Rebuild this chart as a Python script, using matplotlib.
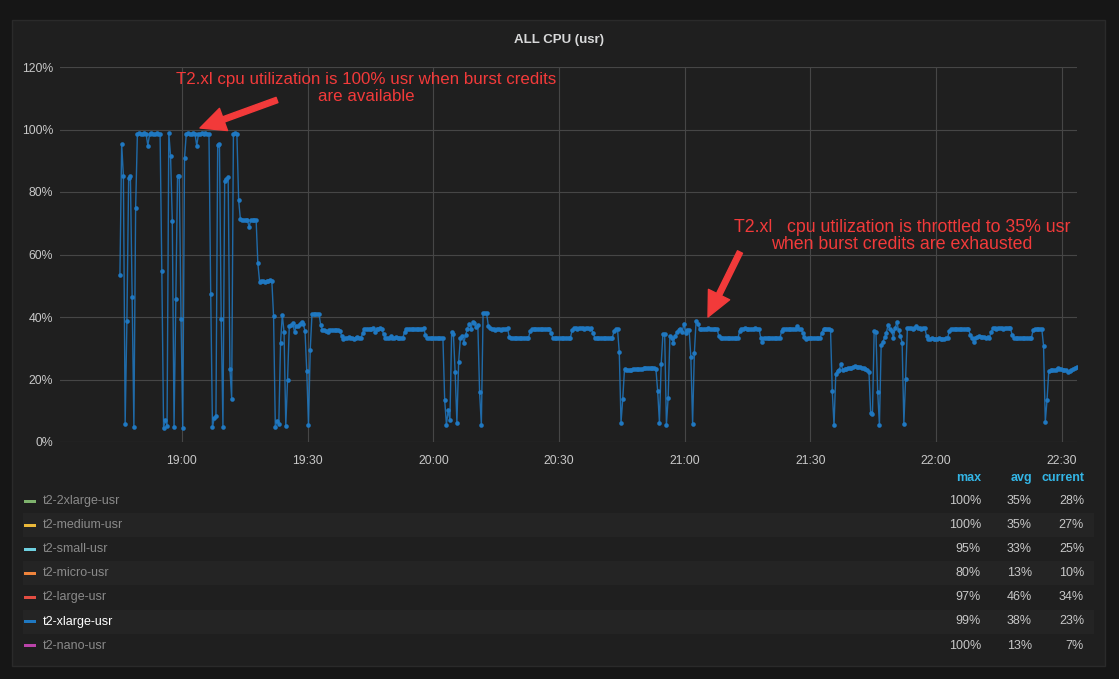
import matplotlib
matplotlib.use('Agg')
import matplotlib.pyplot as plt
import matplotlib.dates as mdates
from matplotlib.patches import Rectangle
import pandas as pd

plt.rcParams['font.family'] = ['Liberation Sans', 'DejaVu Sans']

# t2-xlarge-usr, one sample every 25 s starting 18:45:12
xlarge_usr = [
    53.4, 95.4, 85.0, 5.8, 38.7, 84.5, 85.0, 46.5, 4.8, 75.0, 98.6,
    98.8, 98.6, 98.6, 98.8, 98.6, 94.8, 98.6, 98.8, 98.6, 98.6, 98.8, 98.6, 98.6,
    54.7, 4.6, 7.0, 5.2, 98.8, 91.6, 70.7, 4.9, 45.7, 85.0, 85.0, 39.5, 4.6, 90.8,
    98.6, 98.8, 98.6, 98.6, 98.8, 98.6, 94.8, 98.6, 98.6, 98.8, 98.6, 98.8, 98.6, 98.6,
    47.3, 4.7, 7.6, 8.4, 95.0, 95.3, 39.4, 4.9, 83.5, 84.3, 84.9, 23.4, 13.9,
    98.6, 98.8, 98.6, 77.3, 71.3,
    71.2, 71.0, 71.2, 71.0, 68.8, 71.2, 71.0, 71.2, 71.2,
    57.2, 51.3, 51.6, 51.5, 51.3, 51.6, 51.4, 51.8, 51.6,
    40.3, 4.9, 6.8, 5.8, 31.8, 40.7, 35.2, 5.2, 19.7, 37.1, 37.4, 38.0, 35.2,
    37.1, 37.1, 37.8, 38.5, 37.7, 35.6,
    22.8, 5.4, 29.5, 40.9, 41.1, 40.9, 41.1, 41.0, 37.4,
    35.8, 35.9, 35.5, 35.2, 35.8, 35.9, 35.8, 35.9, 35.8, 35.8, 35.6,
    33.9,
    33.1, 33.3, 33.3, 33.6, 33.3, 33.3, 33.1, 33.3, 33.6, 33.3, 33.3,
    34.8,
    36.3, 36.2, 36.2, 36.3, 36.2, 36.6, 35.1, 36.3, 36.2, 36.4, 36.2,
    34.5,
    33.4, 33.4, 33.3, 33.8, 33.3, 33.3, 33.5, 33.3, 33.3, 33.4, 33.4,
    35.1,
    36.2, 36.2, 36.3, 36.2, 36.2, 36.2, 36.1, 36.3, 36.2, 36.2, 36.4,
    34.2,
    33.4, 33.3, 33.4, 33.2, 33.3, 33.4, 33.3, 33.2, 33.3, 33.2,
    13.5, 5.6, 10.1, 7.0, 35.1, 34.6, 22.3, 6.2, 25.5, 33.2, 33.9, 31.8, 34.3,
    36.2, 37.8, 36.1, 38.4, 38.0, 36.7, 37.4, 15.9, 5.5, 41.2, 41.2, 41.2,
    37.2, 36.4, 36.1, 36.1, 36.0, 36.1, 36.2, 36.0, 36.1, 36.1, 36.2, 36.4,
    33.5,
    33.4, 33.3, 33.4, 33.4, 33.2, 33.4, 33.3, 33.4, 33.3, 33.4, 33.4,
    35.5,
    36.2, 36.3, 36.2, 36.2, 36.3, 36.2, 36.2, 36.1, 36.2, 36.3, 36.1,
    35.0,
    33.2, 33.3, 33.2, 33.2, 33.3, 33.2, 33.2, 33.3, 33.2, 33.2, 33.3,
    35.8,
    36.4, 36.4, 36.3, 36.4, 36.4, 36.4, 36.3, 36.4, 36.4, 36.3, 36.4,
    35.0,
    33.2, 33.3, 33.2, 33.2, 33.3, 33.2, 33.2, 33.3, 33.2, 33.2, 33.3,
    35.5, 36.2, 36.1, 28.7, 6.2, 13.9, 23.3,
    23.0, 23.2, 23.1, 23.2, 23.3, 23.3, 23.4, 23.5, 23.4, 23.5, 23.6, 23.6,
    23.7, 23.8, 23.7, 23.6, 23.6, 23.3,
    16.2, 6.2, 24.9, 34.6, 34.6, 5.5, 14.2, 34.0, 33.4, 31.6, 34.0, 35.1,
    35.7, 36.2, 35.1, 37.9, 35.0, 36.0, 36.0, 27.1, 5.9, 28.4, 38.8, 37.9,
    36.3, 36.3, 36.2, 36.3, 36.3, 36.4, 36.3, 36.2, 36.3, 36.3, 36.3,
    33.8,
    33.3, 33.3, 33.2, 33.3, 33.3, 33.3, 33.2, 33.3, 33.3, 33.3,
    33.4, 35.6,
    36.3, 36.3, 36.4, 36.3, 36.3, 36.2, 36.3, 36.3, 36.4, 36.3, 36.3,
    33.4, 32.1,
    33.3, 33.3, 33.2, 33.3, 33.3, 33.3, 33.2, 33.3, 33.3, 33.3,
    35.5,
    36.2, 36.2, 36.3, 36.2, 36.2, 36.3, 36.2, 36.2, 37.0, 36.2, 36.2,
    35.0, 33.5, 32.9,
    33.3, 33.3, 33.2, 33.3, 33.3, 33.2, 33.3, 33.3,
    35.0, 36.1, 36.3, 36.3, 36.2, 35.7,
    16.3, 5.3, 21.8, 22.8, 23.1, 25.0, 23.1,
    23.3, 23.4, 23.6, 23.7, 23.8, 24.0, 24.4, 24.0, 24.1, 23.9, 23.8, 23.6, 23.5, 23.2,
    22.5, 9.2, 9.0, 35.5, 35.2, 16.1, 5.5, 31.0, 32.1, 33.5, 35.0, 37.6,
    36.1, 35.4, 33.4, 36.4, 38.4, 35.7, 34.0, 31.8, 5.9, 20.3, 36.5,
    36.4, 36.4, 36.3, 36.4, 37.0, 36.4, 36.4, 36.3, 36.4, 36.4,
    33.9,
    33.1, 33.1, 33.2, 33.1, 33.1, 33.1, 33.2, 33.1, 33.1, 33.1, 33.2,
    33.2, 35.5,
    36.2, 36.2, 36.3, 36.2, 36.2, 36.2, 36.3, 36.2, 36.2, 36.2, 36.2,
    34.3, 33.2, 32.0, 33.3, 33.6, 34.0, 33.5, 33.5, 33.5, 33.4, 33.5,
    33.4, 35.2,
    36.4, 36.4, 36.3, 36.4, 36.4, 36.4, 36.3, 36.4, 36.4, 36.4, 36.4,
    34.3,
    33.2, 33.2, 33.3, 33.2, 33.2, 33.2, 33.3, 33.2, 33.2, 33.2, 33.2,
    35.7, 36.2, 36.2, 36.3, 36.2, 36.2, 30.8, 6.5, 13.4, 22.8,
    23.0, 23.1, 23.0, 23.2, 23.8, 23.5, 23.3, 23.2, 23.2, 23.0, 22.3, 22.8,
    23.1, 23.3, 23.8, 24.0,
]

series_names = ['t2-2xlarge-usr', 't2-medium-usr', 't2-small-usr', 't2-micro-usr',
                't2-large-usr', 't2-xlarge-usr', 't2-nano-usr']
series_colors = ['#7eb26d', '#eab839', '#6ed0e0', '#ef843c', '#e24d42', '#1f78c1', '#ba43a9']
max_vals = ['100%', '100%', '95%', '80%', '97%', '99%', '100%']
avg_vals = ['35%', '35%', '33%', '13%', '46%', '38%', '13%']
cur_vals = ['28%', '27%', '25%', '10%', '34%', '23%', '7%']

note1 = 'T2.xl cpu utilization is 100% usr when burst credits\nare available'
note2 = 'T2.xl   cpu utilization is throttled to 35% usr\nwhen burst credits are exhausted'

W, H = 1119, 679
times = pd.date_range('2017-03-01 18:45:12', periods=len(xlarge_usr), freq='25s')
xticks = pd.date_range('2017-03-01 19:00', '2017-03-01 22:30', freq='30min')

fig = plt.figure(figsize=(W / 100, H / 100), dpi=100, facecolor='#161616')

# panel background (kept under the axes)
fig.patches.append(Rectangle((12 / W, 1 - 666 / H), 1093 / W, 646 / H, zorder=-10,
                             transform=fig.transFigure, fc='#1f1f1f', ec='#2a2a2a', lw=1))

fig.text(559 / W, 1 - 40 / H, 'ALL CPU (usr)', color='#d8d9da', fontsize=9.5,
         fontweight='bold', ha='center', va='center')

ax = fig.add_axes([60 / W, 1 - 442 / H, 1017 / W, 375 / H])
ax.set_facecolor('none')
ax.plot(times, xlarge_usr, color='#1f78c1', lw=1.0, alpha=0.85, zorder=3)
ax.plot(times, xlarge_usr, ls='none', marker='o', ms=3.3, color='#1f78c1',
        markeredgewidth=0, zorder=4)

ax.set_ylim(0, 120)
ax.set_yticks(range(0, 121, 20))
ax.set_yticklabels([f'{v}%' for v in range(0, 121, 20)])
ax.set_xlim(pd.Timestamp('2017-03-01 18:30:54'), pd.Timestamp('2017-03-01 22:33:36'))
ax.set_xticks(xticks)
ax.xaxis.set_major_formatter(mdates.DateFormatter('%H:%M'))
ax.grid(True, color='#464646', lw=0.8)
ax.set_axisbelow(True)
for s in ax.spines.values():
    s.set_visible(False)
ax.tick_params(length=0, colors='#c8c8c8', labelsize=8.8)
ax.tick_params(axis='y', pad=5)
ax.tick_params(axis='x', pad=9)

# annotations
red = '#f23a3a'
fig.text(366 / W, 1 - 88 / H, note1, color=red, fontsize=12.2, ha='center', va='center',
         linespacing=1.2)
fig.text(902 / W, 1 - 236 / H, note2, color=red, fontsize=12.8, ha='center', va='center',
         linespacing=1.05)
arrow = dict(arrowstyle='simple,head_length=0.9,head_width=0.85,tail_width=0.2',
             color=red, mutation_scale=20, shrinkA=0, shrinkB=0)
ax.annotate('', xy=(200, H - 128), xytext=(277, H - 100), xycoords='figure pixels',
            textcoords='figure pixels', arrowprops=arrow)
ax.annotate('', xy=(708, H - 317), xytext=(740, H - 252), xycoords='figure pixels',
            textcoords='figure pixels', arrowprops=arrow)

# legend table
hdr_y = 478
cols = [981, 1032, 1084]
for label, x in zip(['max', 'avg', 'current'], cols):
    fig.text(x / W, 1 - hdr_y / H, label, color='#33b5e5', fontsize=9,
             fontweight='bold', ha='right', va='center')
for i, name in enumerate(series_names):
    y = 501 + i * 24.1
    if i % 2 == 1:
        fig.patches.append(Rectangle((23 / W, 1 - (y + 12) / H), 1071 / W, 24 / H, zorder=-5,
                                     transform=fig.transFigure, fc='#242424', ec='none'))
    fig.patches.append(Rectangle((23.5 / W, 1 - (y + 1.5) / H), 12 / W, 3 / H,
                                 transform=fig.transFigure, fc=series_colors[i], ec='none'))
    sel = name == 't2-xlarge-usr'
    fig.text(43 / W, 1 - y / H, name, color='#ffffff' if sel else '#8a8a8a',
             fontsize=9, ha='left', va='center')
    for val, x in zip([max_vals[i], avg_vals[i], cur_vals[i]], cols):
        fig.text(x / W, 1 - y / H, val, color='#c8c8c8', fontsize=9,
                 ha='right', va='center')

fig.savefig('out.png', dpi=100, facecolor=fig.get_facecolor())
